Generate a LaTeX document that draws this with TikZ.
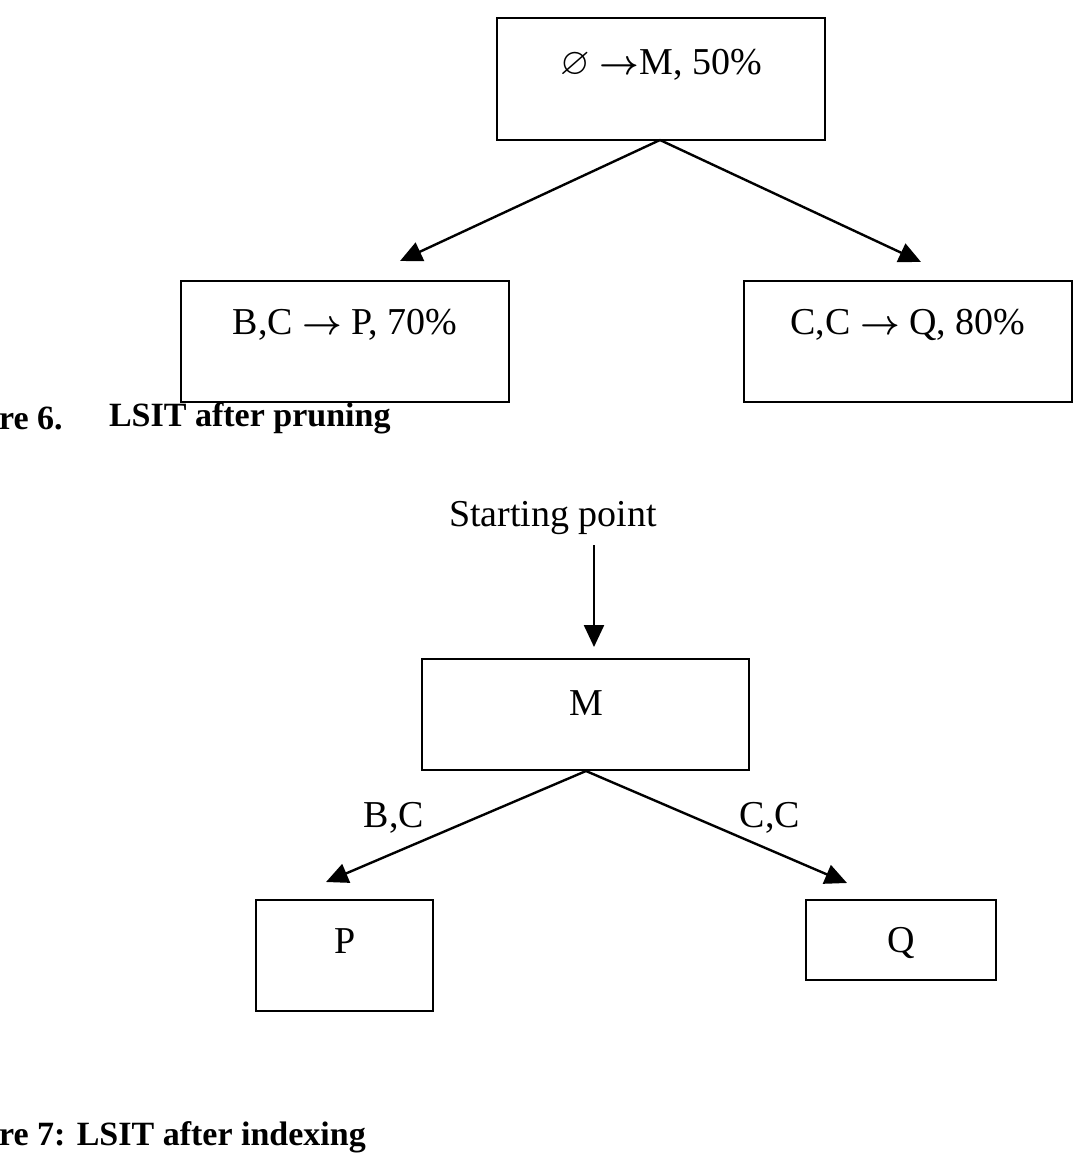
\documentclass[tikz,border=0pt]{standalone}
\usepackage{amsmath,amssymb}
\usepackage{fontspec}
\setmainfont{Liberation Serif}
\usetikzlibrary{arrows.meta}
\begin{document}
\begin{tikzpicture}[x=0.5pt,y=-0.5pt,
  box/.style={draw,line width=1.2pt},
  lbl/.style={font=\fontsize{19}{22}\selectfont},
  captxt/.style={font=\fontsize{17}{20}\selectfont\bfseries,anchor=west},
  arr/.style={line width=1.2pt,-{Triangle[length=11pt,width=10pt]}}]
\useasboundingbox (0,0) rectangle (1085,1158);
\draw[box] (497,18) rectangle (825,140);
\node[lbl] (t) at (661,65) {$\varnothing\boldsymbol{\rightarrow}$M, 50\%};
\draw[box] (181,281) rectangle (509,402);
\node[lbl] (bc) at (345,325) {B,C $\boldsymbol{\rightarrow}$ P, 70\%};
\draw[box] (744,281) rectangle (1072,402);
\node[lbl] (cc) at (908,325) {C,C $\boldsymbol{\rightarrow}$ Q, 80\%};
\coordinate (t1) at (660,140);
\coordinate (e1) at (400,261);
\coordinate (e2) at (921,262);
\draw[arr] (t1) -- (e1);
\draw[arr] (t1) -- (e2);
\node[captxt] (c6a) at (-8,418) {re 6.};
\node[captxt] (c6b) at (102,418) {LSIT after pruning};
\node[lbl] (sp) at (553,518) {Starting point};
\coordinate (s1) at (594,545);
\coordinate (s2) at (594,647);
\draw[arr] (s1) -- (s2);
\draw[box] (422,659) rectangle (749,770);
\node[lbl] (m) at (586,703) {M};
\draw[box] (256,900) rectangle (433,1011);
\node[lbl] (p) at (345,941) {P};
\draw[box] (806,900) rectangle (996,980);
\node[lbl] (q) at (901,943) {Q};
\node[lbl] (l1) at (394,818) {B,C};
\node[lbl] (l2) at (770,818) {C,C};
\coordinate (m1) at (586,771);
\coordinate (f1) at (326,882);
\coordinate (f2) at (847,883);
\draw[arr] (m1) -- (f1);
\draw[arr] (m1) -- (f2);
\node[captxt] (c7) at (-8,1137) {re 7: LSIT after indexing};
\end{tikzpicture}
\end{document}
